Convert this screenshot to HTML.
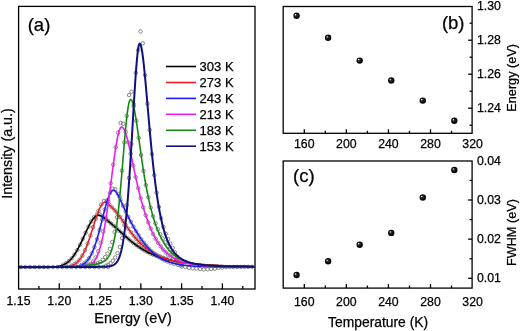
<!DOCTYPE html><html><head><meta charset="utf-8"><style>html,body{margin:0;padding:0;background:#fff;}svg{display:block;}</style></head><body><svg width="520" height="331" viewBox="0 0 520 331"><defs><radialGradient id="ball" cx="0.5" cy="0.5" r="0.5" fx="0.3" fy="0.32"><stop offset="0" stop-color="#ffffff"/><stop offset="0.1" stop-color="#e0e0e0"/><stop offset="0.3" stop-color="#303030"/><stop offset="0.8" stop-color="#000"/><stop offset="1" stop-color="#111"/></radialGradient></defs><rect width="520" height="331" fill="#fff"/><g fill="none" stroke="#747474" stroke-width="0.85"><circle cx="63.30" cy="264.79" r="1.75"/><circle cx="66.10" cy="263.29" r="1.75"/><circle cx="68.90" cy="261.18" r="1.75"/><circle cx="71.70" cy="258.31" r="1.75"/><circle cx="74.50" cy="254.61" r="1.75"/><circle cx="77.30" cy="250.04" r="1.75"/><circle cx="80.10" cy="244.68" r="1.75"/><circle cx="82.90" cy="238.76" r="1.75"/><circle cx="85.70" cy="232.61" r="1.75"/><circle cx="88.50" cy="226.70" r="1.75"/><circle cx="91.30" cy="221.49" r="1.75"/><circle cx="94.10" cy="217.29" r="1.75"/><circle cx="96.90" cy="214.63" r="1.75"/><circle cx="99.70" cy="214.48" r="1.75"/><circle cx="102.50" cy="216.36" r="1.75"/><circle cx="105.30" cy="218.72" r="1.75"/><circle cx="108.10" cy="221.03" r="1.75"/><circle cx="110.90" cy="223.36" r="1.75"/><circle cx="113.70" cy="225.77" r="1.75"/><circle cx="116.50" cy="228.25" r="1.75"/><circle cx="119.30" cy="230.79" r="1.75"/><circle cx="122.10" cy="233.35" r="1.75"/><circle cx="124.90" cy="235.88" r="1.75"/><circle cx="127.70" cy="238.34" r="1.75"/><circle cx="130.50" cy="240.70" r="1.75"/><circle cx="133.30" cy="242.94" r="1.75"/><circle cx="136.10" cy="245.04" r="1.75"/><circle cx="138.90" cy="247.00" r="1.75"/><circle cx="141.70" cy="248.80" r="1.75"/><circle cx="144.50" cy="250.46" r="1.75"/><circle cx="147.30" cy="251.97" r="1.75"/><circle cx="150.10" cy="253.35" r="1.75"/><circle cx="152.90" cy="254.60" r="1.75"/><circle cx="155.70" cy="255.73" r="1.75"/><circle cx="158.50" cy="256.76" r="1.75"/><circle cx="161.30" cy="257.69" r="1.75"/><circle cx="164.10" cy="258.55" r="1.75"/><circle cx="166.90" cy="259.37" r="1.75"/><circle cx="71.50" cy="265.60" r="1.75"/><circle cx="74.20" cy="264.37" r="1.75"/><circle cx="76.90" cy="262.45" r="1.75"/><circle cx="79.60" cy="259.59" r="1.75"/><circle cx="82.30" cy="255.57" r="1.75"/><circle cx="85.00" cy="250.21" r="1.75"/><circle cx="87.70" cy="243.51" r="1.75"/><circle cx="90.40" cy="235.65" r="1.75"/><circle cx="93.10" cy="227.13" r="1.75"/><circle cx="95.80" cy="218.63" r="1.75"/><circle cx="98.50" cy="210.92" r="1.75"/><circle cx="101.20" cy="204.65" r="1.75"/><circle cx="103.90" cy="200.99" r="1.75"/><circle cx="106.60" cy="201.43" r="1.75"/><circle cx="109.30" cy="204.52" r="1.75"/><circle cx="112.00" cy="207.42" r="1.75"/><circle cx="114.70" cy="210.31" r="1.75"/><circle cx="117.40" cy="213.55" r="1.75"/><circle cx="120.10" cy="217.12" r="1.75"/><circle cx="122.80" cy="220.91" r="1.75"/><circle cx="125.50" cy="224.77" r="1.75"/><circle cx="128.20" cy="228.59" r="1.75"/><circle cx="130.90" cy="232.25" r="1.75"/><circle cx="133.60" cy="235.71" r="1.75"/><circle cx="136.30" cy="238.93" r="1.75"/><circle cx="139.00" cy="241.87" r="1.75"/><circle cx="141.70" cy="244.54" r="1.75"/><circle cx="144.40" cy="246.94" r="1.75"/><circle cx="147.10" cy="249.10" r="1.75"/><circle cx="149.80" cy="251.02" r="1.75"/><circle cx="152.50" cy="252.72" r="1.75"/><circle cx="155.20" cy="254.23" r="1.75"/><circle cx="157.90" cy="255.58" r="1.75"/><circle cx="160.60" cy="256.77" r="1.75"/><circle cx="163.30" cy="257.83" r="1.75"/><circle cx="166.00" cy="258.81" r="1.75"/><circle cx="81.40" cy="265.04" r="1.75"/><circle cx="84.00" cy="263.61" r="1.75"/><circle cx="86.60" cy="261.37" r="1.75"/><circle cx="89.20" cy="258.05" r="1.75"/><circle cx="91.80" cy="253.36" r="1.75"/><circle cx="94.40" cy="247.08" r="1.75"/><circle cx="97.00" cy="239.16" r="1.75"/><circle cx="99.60" cy="229.82" r="1.75"/><circle cx="102.20" cy="219.61" r="1.75"/><circle cx="104.80" cy="209.40" r="1.75"/><circle cx="107.40" cy="200.20" r="1.75"/><circle cx="110.00" cy="192.90" r="1.75"/><circle cx="112.60" cy="188.70" r="1.75"/><circle cx="115.20" cy="189.25" r="1.75"/><circle cx="117.80" cy="193.76" r="1.75"/><circle cx="120.40" cy="199.70" r="1.75"/><circle cx="123.00" cy="205.67" r="1.75"/><circle cx="125.60" cy="211.39" r="1.75"/><circle cx="128.20" cy="216.80" r="1.75"/><circle cx="130.80" cy="221.88" r="1.75"/><circle cx="133.40" cy="226.65" r="1.75"/><circle cx="136.00" cy="231.13" r="1.75"/><circle cx="138.60" cy="235.30" r="1.75"/><circle cx="141.20" cy="239.16" r="1.75"/><circle cx="143.80" cy="242.70" r="1.75"/><circle cx="146.40" cy="245.92" r="1.75"/><circle cx="149.00" cy="248.81" r="1.75"/><circle cx="151.60" cy="251.39" r="1.75"/><circle cx="154.20" cy="253.67" r="1.75"/><circle cx="156.80" cy="255.66" r="1.75"/><circle cx="159.40" cy="257.39" r="1.75"/><circle cx="162.00" cy="258.89" r="1.75"/><circle cx="164.60" cy="260.19" r="1.75"/><circle cx="167.20" cy="261.33" r="1.75"/><circle cx="88.20" cy="265.47" r="1.75"/><circle cx="90.70" cy="264.02" r="1.75"/><circle cx="93.20" cy="261.48" r="1.75"/><circle cx="95.70" cy="257.37" r="1.75"/><circle cx="98.20" cy="251.24" r="1.75"/><circle cx="100.70" cy="242.74" r="1.75"/><circle cx="103.20" cy="231.64" r="1.75"/><circle cx="105.70" cy="217.85" r="1.75"/><circle cx="108.20" cy="201.53" r="1.75"/><circle cx="110.70" cy="183.35" r="1.75"/><circle cx="113.20" cy="164.66" r="1.75"/><circle cx="115.70" cy="147.28" r="1.75"/><circle cx="118.20" cy="132.56" r="1.75"/><circle cx="120.70" cy="122.97" r="1.75"/><circle cx="123.20" cy="123.74" r="1.75"/><circle cx="125.70" cy="131.97" r="1.75"/><circle cx="128.20" cy="142.30" r="1.75"/><circle cx="130.70" cy="153.62" r="1.75"/><circle cx="133.20" cy="165.51" r="1.75"/><circle cx="135.70" cy="177.19" r="1.75"/><circle cx="138.20" cy="188.17" r="1.75"/><circle cx="140.70" cy="198.20" r="1.75"/><circle cx="143.20" cy="207.23" r="1.75"/><circle cx="145.70" cy="215.26" r="1.75"/><circle cx="148.20" cy="222.35" r="1.75"/><circle cx="150.70" cy="228.59" r="1.75"/><circle cx="153.20" cy="234.05" r="1.75"/><circle cx="155.70" cy="238.80" r="1.75"/><circle cx="158.20" cy="242.93" r="1.75"/><circle cx="160.70" cy="246.49" r="1.75"/><circle cx="163.20" cy="249.57" r="1.75"/><circle cx="165.70" cy="252.25" r="1.75"/><circle cx="168.20" cy="254.63" r="1.75"/><circle cx="170.70" cy="256.82" r="1.75"/><circle cx="173.20" cy="258.93" r="1.75"/><circle cx="175.70" cy="261.03" r="1.75"/><circle cx="178.20" cy="263.11" r="1.75"/><circle cx="180.70" cy="265.04" r="1.75"/><circle cx="83.50" cy="265.78" r="1.75"/><circle cx="85.90" cy="265.57" r="1.75"/><circle cx="88.30" cy="265.32" r="1.75"/><circle cx="90.70" cy="265.01" r="1.75"/><circle cx="93.10" cy="264.59" r="1.75"/><circle cx="95.50" cy="264.01" r="1.75"/><circle cx="97.90" cy="263.14" r="1.75"/><circle cx="100.30" cy="261.82" r="1.75"/><circle cx="102.70" cy="259.89" r="1.75"/><circle cx="105.10" cy="257.20" r="1.75"/><circle cx="107.50" cy="253.60" r="1.75"/><circle cx="109.90" cy="248.79" r="1.75"/><circle cx="112.30" cy="242.05" r="1.75"/><circle cx="114.70" cy="232.09" r="1.75"/><circle cx="117.10" cy="217.32" r="1.75"/><circle cx="119.50" cy="196.67" r="1.75"/><circle cx="121.90" cy="170.71" r="1.75"/><circle cx="124.30" cy="142.44" r="1.75"/><circle cx="126.70" cy="115.84" r="1.75"/><circle cx="129.10" cy="95.10" r="1.75"/><circle cx="131.50" cy="91.77" r="1.75"/><circle cx="133.90" cy="104.47" r="1.75"/><circle cx="136.30" cy="120.68" r="1.75"/><circle cx="138.70" cy="137.73" r="1.75"/><circle cx="141.10" cy="154.93" r="1.75"/><circle cx="143.50" cy="170.96" r="1.75"/><circle cx="145.90" cy="185.13" r="1.75"/><circle cx="148.30" cy="197.30" r="1.75"/><circle cx="150.70" cy="207.60" r="1.75"/><circle cx="153.10" cy="216.20" r="1.75"/><circle cx="155.50" cy="223.34" r="1.75"/><circle cx="157.90" cy="229.25" r="1.75"/><circle cx="160.30" cy="234.22" r="1.75"/><circle cx="162.70" cy="238.51" r="1.75"/><circle cx="165.10" cy="242.41" r="1.75"/><circle cx="167.50" cy="246.11" r="1.75"/><circle cx="169.90" cy="249.70" r="1.75"/><circle cx="172.30" cy="253.23" r="1.75"/><circle cx="174.70" cy="256.66" r="1.75"/><circle cx="177.10" cy="259.89" r="1.75"/><circle cx="179.50" cy="262.80" r="1.75"/><circle cx="181.90" cy="265.23" r="1.75"/><circle cx="106.00" cy="265.79" r="1.75"/><circle cx="108.30" cy="264.77" r="1.75"/><circle cx="110.60" cy="263.15" r="1.75"/><circle cx="112.90" cy="260.77" r="1.75"/><circle cx="115.20" cy="257.50" r="1.75"/><circle cx="117.50" cy="253.12" r="1.75"/><circle cx="119.80" cy="247.05" r="1.75"/><circle cx="122.10" cy="238.20" r="1.75"/><circle cx="124.40" cy="224.89" r="1.75"/><circle cx="126.70" cy="205.26" r="1.75"/><circle cx="129.00" cy="178.13" r="1.75"/><circle cx="131.30" cy="144.11" r="1.75"/><circle cx="133.60" cy="106.45" r="1.75"/><circle cx="135.90" cy="72.76" r="1.75"/><circle cx="138.20" cy="50.09" r="1.75"/><circle cx="140.50" cy="31.43" r="1.75"/><circle cx="142.80" cy="43.30" r="1.75"/><circle cx="145.10" cy="75.32" r="1.75"/><circle cx="147.40" cy="103.62" r="1.75"/><circle cx="149.70" cy="129.93" r="1.75"/><circle cx="152.00" cy="154.08" r="1.75"/><circle cx="154.30" cy="175.10" r="1.75"/><circle cx="156.60" cy="192.70" r="1.75"/><circle cx="158.90" cy="206.99" r="1.75"/><circle cx="161.20" cy="218.28" r="1.75"/><circle cx="163.50" cy="227.03" r="1.75"/><circle cx="165.80" cy="233.76" r="1.75"/><circle cx="168.10" cy="239.07" r="1.75"/><circle cx="170.40" cy="243.60" r="1.75"/><circle cx="172.70" cy="247.92" r="1.75"/><circle cx="175.00" cy="252.34" r="1.75"/><circle cx="177.30" cy="256.81" r="1.75"/><circle cx="179.60" cy="260.98" r="1.75"/><circle cx="181.90" cy="264.38" r="1.75"/><circle cx="20.80" cy="267.0" r="1.75"/><circle cx="25.40" cy="267.0" r="1.75"/><circle cx="30.00" cy="267.0" r="1.75"/><circle cx="34.60" cy="267.0" r="1.75"/><circle cx="39.20" cy="267.0" r="1.75"/><circle cx="43.80" cy="267.0" r="1.75"/><circle cx="48.40" cy="267.0" r="1.75"/><circle cx="53.00" cy="267.0" r="1.75"/><circle cx="57.60" cy="267.0" r="1.75"/><circle cx="62.20" cy="267.0" r="1.75"/><circle cx="66.80" cy="267.0" r="1.75"/><circle cx="71.40" cy="267.0" r="1.75"/><circle cx="76.00" cy="267.0" r="1.75"/><circle cx="80.60" cy="267.0" r="1.75"/><circle cx="85.20" cy="267.0" r="1.75"/><circle cx="89.80" cy="267.0" r="1.75"/><circle cx="94.40" cy="267.0" r="1.75"/><circle cx="99.00" cy="267.0" r="1.75"/><circle cx="103.60" cy="267.0" r="1.75"/><circle cx="108.20" cy="267.0" r="1.75"/><circle cx="170.50" cy="262.82" r="1.75"/><circle cx="174.20" cy="263.77" r="1.75"/><circle cx="177.90" cy="264.83" r="1.75"/><circle cx="181.60" cy="266.50" r="1.75"/><circle cx="185.30" cy="266.96" r="1.75"/><circle cx="189.00" cy="267.80" r="1.75"/><circle cx="192.70" cy="268.30" r="1.75"/><circle cx="196.40" cy="268.53" r="1.75"/><circle cx="200.10" cy="269.03" r="1.75"/><circle cx="203.80" cy="269.39" r="1.75"/><circle cx="207.50" cy="269.26" r="1.75"/><circle cx="211.20" cy="268.92" r="1.75"/><circle cx="214.90" cy="268.70" r="1.75"/><circle cx="218.60" cy="267.79" r="1.75"/><circle cx="222.30" cy="267.53" r="1.75"/><circle cx="226.00" cy="267.10" r="1.75"/><circle cx="229.70" cy="267.00" r="1.75"/><circle cx="233.40" cy="266.98" r="1.75"/><circle cx="237.10" cy="266.95" r="1.75"/><circle cx="240.80" cy="266.91" r="1.75"/><circle cx="244.50" cy="266.87" r="1.75"/><circle cx="248.20" cy="266.84" r="1.75"/><circle cx="251.90" cy="266.81" r="1.75"/></g><g fill="none" stroke-width="1.6" stroke-linejoin="round"><path stroke="#000000" d="M19.20,267.50 L19.70,267.50 L20.20,267.50 L20.70,267.50 L21.20,267.50 L21.70,267.50 L22.20,267.50 L22.70,267.50 L23.20,267.50 L23.70,267.50 L24.20,267.50 L24.70,267.50 L25.20,267.50 L25.70,267.50 L26.20,267.50 L26.70,267.50 L27.20,267.50 L27.70,267.50 L28.20,267.50 L28.70,267.50 L29.20,267.50 L29.70,267.50 L30.20,267.50 L30.70,267.50 L31.20,267.50 L31.70,267.50 L32.20,267.50 L32.70,267.50 L33.20,267.50 L33.70,267.50 L34.20,267.50 L34.70,267.49 L35.20,267.49 L35.70,267.49 L36.20,267.49 L36.70,267.49 L37.20,267.49 L37.70,267.49 L38.20,267.49 L38.70,267.48 L39.20,267.48 L39.70,267.48 L40.20,267.48 L40.70,267.47 L41.20,267.47 L41.70,267.47 L42.20,267.46 L42.70,267.46 L43.20,267.45 L43.70,267.45 L44.20,267.44 L44.70,267.43 L45.20,267.43 L45.70,267.42 L46.20,267.41 L46.70,267.40 L47.20,267.38 L47.70,267.37 L48.20,267.35 L48.70,267.34 L49.20,267.32 L49.70,267.30 L50.20,267.27 L50.70,267.25 L51.20,267.22 L51.70,267.19 L52.20,267.15 L52.70,267.12 L53.20,267.08 L53.70,267.03 L54.20,266.98 L54.70,266.93 L55.20,266.87 L55.70,266.80 L56.20,266.73 L56.70,266.66 L57.20,266.57 L57.70,266.48 L58.20,266.38 L58.70,266.28 L59.20,266.16 L59.70,266.04 L60.20,265.90 L60.70,265.75 L61.20,265.60 L61.70,265.43 L62.20,265.24 L62.70,265.05 L63.20,264.84 L63.70,264.61 L64.20,264.37 L64.70,264.11 L65.20,263.84 L65.70,263.54 L66.20,263.23 L66.70,262.90 L67.20,262.54 L67.70,262.17 L68.20,261.77 L68.70,261.35 L69.20,260.91 L69.70,260.44 L70.20,259.95 L70.70,259.43 L71.20,258.89 L71.70,258.31 L72.20,257.72 L72.70,257.09 L73.20,256.44 L73.70,255.76 L74.20,255.05 L74.70,254.31 L75.20,253.55 L75.70,252.75 L76.20,251.93 L76.70,251.09 L77.20,250.22 L77.70,249.32 L78.20,248.40 L78.70,247.45 L79.20,246.48 L79.70,245.49 L80.20,244.48 L80.70,243.45 L81.20,242.41 L81.70,241.35 L82.20,240.28 L82.70,239.20 L83.20,238.11 L83.70,237.01 L84.20,235.91 L84.70,234.81 L85.20,233.71 L85.70,232.61 L86.20,231.53 L86.70,230.45 L87.20,229.39 L87.70,228.34 L88.20,227.32 L88.70,226.31 L89.20,225.33 L89.70,224.38 L90.20,223.47 L90.70,222.58 L91.20,221.74 L91.70,220.94 L92.20,220.17 L92.70,219.46 L93.20,218.79 L93.70,218.18 L94.20,217.61 L94.70,217.11 L95.20,216.66 L95.70,216.26 L96.20,215.93 L96.70,215.66 L97.20,215.45 L97.70,215.30 L98.20,215.22 L98.70,215.20 L99.20,215.24 L99.70,215.34 L100.20,215.48 L100.70,215.68 L101.20,215.91 L101.70,216.19 L102.20,216.49 L102.70,216.82 L103.20,217.17 L103.70,217.54 L104.20,217.91 L104.70,218.30 L105.20,218.69 L105.70,219.09 L106.20,219.49 L106.70,219.89 L107.20,220.30 L107.70,220.70 L108.20,221.11 L108.70,221.52 L109.20,221.94 L109.70,222.35 L110.20,222.77 L110.70,223.19 L111.20,223.61 L111.70,224.04 L112.20,224.47 L112.70,224.90 L113.20,225.33 L113.70,225.77 L114.20,226.21 L114.70,226.65 L115.20,227.09 L115.70,227.54 L116.20,227.98 L116.70,228.43 L117.20,228.88 L117.70,229.34 L118.20,229.79 L118.70,230.25 L119.20,230.70 L119.70,231.16 L120.20,231.62 L120.70,232.07 L121.20,232.53 L121.70,232.99 L122.20,233.44 L122.70,233.90 L123.20,234.35 L123.70,234.80 L124.20,235.25 L124.70,235.70 L125.20,236.15 L125.70,236.59 L126.20,237.03 L126.70,237.47 L127.20,237.91 L127.70,238.34 L128.20,238.77 L128.70,239.20 L129.20,239.62 L129.70,240.04 L130.20,240.46 L130.70,240.87 L131.20,241.28 L131.70,241.68 L132.20,242.08 L132.70,242.47 L133.20,242.87 L133.70,243.25 L134.20,243.63 L134.70,244.01 L135.20,244.38 L135.70,244.75 L136.20,245.12 L136.70,245.48 L137.20,245.83 L137.70,246.18 L138.20,246.52 L138.70,246.86 L139.20,247.20 L139.70,247.53 L140.20,247.85 L140.70,248.17 L141.20,248.49 L141.70,248.80 L142.20,249.11 L142.70,249.41 L143.20,249.71 L143.70,250.00 L144.20,250.29 L144.70,250.57 L145.20,250.85 L145.70,251.12 L146.20,251.39 L146.70,251.66 L147.20,251.92 L147.70,252.18 L148.20,252.43 L148.70,252.68 L149.20,252.92 L149.70,253.16 L150.20,253.40 L150.70,253.63 L151.20,253.85 L151.70,254.08 L152.20,254.30 L152.70,254.51 L153.20,254.73 L153.70,254.94 L154.20,255.14 L154.70,255.34 L155.20,255.54 L155.70,255.73 L156.20,255.92 L156.70,256.11 L157.20,256.30 L157.70,256.48 L158.20,256.65 L158.70,256.83 L159.20,257.00 L159.70,257.17 L160.20,257.33 L160.70,257.50 L161.20,257.66 L161.70,257.81 L162.20,257.97 L162.70,258.12 L163.20,258.27 L163.70,258.41 L164.20,258.55 L164.70,258.69 L165.20,258.83 L165.70,258.97 L166.20,259.10 L166.70,259.23 L167.20,259.36 L167.70,259.49 L168.20,259.61 L168.70,259.73 L169.20,259.85 L169.70,259.97 L170.20,260.08 L170.70,260.20 L171.20,260.31 L171.70,260.42 L172.20,260.52 L172.70,260.63 L173.20,260.73 L173.70,260.83 L174.20,260.93 L174.70,261.03 L175.20,261.13 L175.70,261.22 L176.20,261.31 L176.70,261.40 L177.20,261.49 L177.70,261.58 L178.20,261.67 L178.70,261.75 L179.20,261.84 L179.70,261.92 L180.20,262.00 L180.70,262.08 L181.20,262.16 L181.70,262.23 L182.20,262.31 L182.70,262.38 L183.20,262.45 L183.70,262.53 L184.20,262.60 L184.70,262.67 L185.20,262.73 L185.70,262.80 L186.20,262.87 L186.70,262.93 L187.20,262.99 L187.70,263.06 L188.20,263.12 L188.70,263.18 L189.20,263.24 L189.70,263.29 L190.20,263.35 L190.70,263.41 L191.20,263.46 L191.70,263.52 L192.20,263.57 L192.70,263.62 L193.20,263.67 L193.70,263.73 L194.20,263.78 L194.70,263.83 L195.20,263.87 L195.70,263.92 L196.20,263.97 L196.70,264.01 L197.20,264.06 L197.70,264.10 L198.20,264.15 L198.70,264.19 L199.20,264.23 L199.70,264.28 L200.20,264.32 L200.70,264.36 L201.20,264.40 L201.70,264.44 L202.20,264.48 L202.70,264.51 L203.20,264.55 L203.70,264.59 L204.20,264.62 L204.70,264.66 L205.20,264.70 L205.70,264.73 L206.20,264.76 L206.70,264.80 L207.20,264.83 L207.70,264.86 L208.20,264.90 L208.70,264.93 L209.20,264.96 L209.70,264.99 L210.20,265.02 L210.70,265.05 L211.20,265.08 L211.70,265.11 L212.20,265.14 L212.70,265.16 L213.20,265.19 L213.70,265.22 L214.20,265.24 L214.70,265.27 L215.20,265.30 L215.70,265.32 L216.20,265.35 L216.70,265.37 L217.20,265.40 L217.70,265.42 L218.20,265.45 L218.70,265.47 L219.20,265.49 L219.70,265.51 L220.20,265.54 L220.70,265.56 L221.20,265.58 L221.70,265.60 L222.20,265.62 L222.70,265.64 L223.20,265.67 L223.70,265.69 L224.20,265.71 L224.70,265.73 L225.20,265.74 L225.70,265.76 L226.20,265.78 L226.70,265.80 L227.20,265.82 L227.70,265.84 L228.20,265.86 L228.70,265.87 L229.20,265.89 L229.70,265.91 L230.20,265.93 L230.70,265.94 L231.20,265.96 L231.70,265.98 L232.20,265.99 L232.70,266.01 L233.20,266.02 L233.70,266.04 L234.20,266.05 L234.70,266.07 L235.20,266.08 L235.70,266.10 L236.20,266.11 L236.70,266.13 L237.20,266.14 L237.70,266.15 L238.20,266.17 L238.70,266.18 L239.20,266.20 L239.70,266.21 L240.20,266.22 L240.70,266.23 L241.20,266.25 L241.70,266.26 L242.20,266.27 L242.70,266.28 L243.20,266.30 L243.70,266.31 L244.20,266.32 L244.70,266.33 L245.20,266.34 L245.70,266.35 L246.20,266.37 L246.70,266.38 L247.20,266.39 L247.70,266.40 L248.20,266.41 L248.70,266.42 L249.20,266.43 L249.70,266.44 L250.20,266.45 L250.70,266.46 L251.20,266.47 L251.70,266.48 L252.20,266.49 L252.70,266.50 L253.20,266.51 L253.70,266.52 L254.20,266.53"/><path stroke="#ee1c24" d="M19.20,267.30 L19.70,267.30 L20.20,267.30 L20.70,267.30 L21.20,267.30 L21.70,267.30 L22.20,267.30 L22.70,267.30 L23.20,267.30 L23.70,267.30 L24.20,267.30 L24.70,267.30 L25.20,267.30 L25.70,267.30 L26.20,267.30 L26.70,267.30 L27.20,267.30 L27.70,267.30 L28.20,267.30 L28.70,267.30 L29.20,267.30 L29.70,267.30 L30.20,267.30 L30.70,267.30 L31.20,267.30 L31.70,267.30 L32.20,267.30 L32.70,267.30 L33.20,267.30 L33.70,267.30 L34.20,267.30 L34.70,267.30 L35.20,267.30 L35.70,267.30 L36.20,267.30 L36.70,267.30 L37.20,267.30 L37.70,267.30 L38.20,267.30 L38.70,267.30 L39.20,267.30 L39.70,267.30 L40.20,267.30 L40.70,267.30 L41.20,267.30 L41.70,267.30 L42.20,267.30 L42.70,267.30 L43.20,267.30 L43.70,267.30 L44.20,267.30 L44.70,267.30 L45.20,267.30 L45.70,267.30 L46.20,267.30 L46.70,267.30 L47.20,267.30 L47.70,267.30 L48.20,267.30 L48.70,267.30 L49.20,267.30 L49.70,267.29 L50.20,267.29 L50.70,267.29 L51.20,267.29 L51.70,267.29 L52.20,267.29 L52.70,267.29 L53.20,267.28 L53.70,267.28 L54.20,267.28 L54.70,267.28 L55.20,267.27 L55.70,267.27 L56.20,267.26 L56.70,267.26 L57.20,267.25 L57.70,267.24 L58.20,267.23 L58.70,267.22 L59.20,267.21 L59.70,267.20 L60.20,267.19 L60.70,267.17 L61.20,267.15 L61.70,267.13 L62.20,267.11 L62.70,267.08 L63.20,267.05 L63.70,267.02 L64.20,266.98 L64.70,266.94 L65.20,266.89 L65.70,266.84 L66.20,266.78 L66.70,266.72 L67.20,266.64 L67.70,266.56 L68.20,266.47 L68.70,266.38 L69.20,266.27 L69.70,266.15 L70.20,266.01 L70.70,265.87 L71.20,265.71 L71.70,265.53 L72.20,265.34 L72.70,265.13 L73.20,264.90 L73.70,264.64 L74.20,264.37 L74.70,264.07 L75.20,263.75 L75.70,263.40 L76.20,263.03 L76.70,262.62 L77.20,262.18 L77.70,261.71 L78.20,261.20 L78.70,260.66 L79.20,260.08 L79.70,259.46 L80.20,258.80 L80.70,258.10 L81.20,257.36 L81.70,256.57 L82.20,255.74 L82.70,254.86 L83.20,253.93 L83.70,252.96 L84.20,251.94 L84.70,250.87 L85.20,249.76 L85.70,248.60 L86.20,247.39 L86.70,246.14 L87.20,244.84 L87.70,243.51 L88.20,242.13 L88.70,240.71 L89.20,239.26 L89.70,237.78 L90.20,236.27 L90.70,234.73 L91.20,233.17 L91.70,231.59 L92.20,230.00 L92.70,228.41 L93.20,226.81 L93.70,225.21 L94.20,223.62 L94.70,222.04 L95.20,220.48 L95.70,218.95 L96.20,217.45 L96.70,215.99 L97.20,214.57 L97.70,213.20 L98.20,211.88 L98.70,210.63 L99.20,209.44 L99.70,208.33 L100.20,207.29 L100.70,206.34 L101.20,205.47 L101.70,204.70 L102.20,204.02 L102.70,203.44 L103.20,202.96 L103.70,202.59 L104.20,202.32 L104.70,202.15 L105.20,202.10 L105.70,202.17 L106.20,202.37 L106.70,202.67 L107.20,203.05 L107.70,203.47 L108.20,203.92 L108.70,204.38 L109.20,204.84 L109.70,205.31 L110.20,205.77 L110.70,206.24 L111.20,206.71 L111.70,207.19 L112.20,207.68 L112.70,208.18 L113.20,208.69 L113.70,209.22 L114.20,209.76 L114.70,210.31 L115.20,210.88 L115.70,211.47 L116.20,212.06 L116.70,212.67 L117.20,213.30 L117.70,213.93 L118.20,214.58 L118.70,215.23 L119.20,215.90 L119.70,216.58 L120.20,217.26 L120.70,217.95 L121.20,218.65 L121.70,219.35 L122.20,220.06 L122.70,220.77 L123.20,221.48 L123.70,222.20 L124.20,222.91 L124.70,223.63 L125.20,224.34 L125.70,225.06 L126.20,225.77 L126.70,226.48 L127.20,227.19 L127.70,227.89 L128.20,228.59 L128.70,229.28 L129.20,229.96 L129.70,230.65 L130.20,231.32 L130.70,231.99 L131.20,232.65 L131.70,233.30 L132.20,233.95 L132.70,234.59 L133.20,235.22 L133.70,235.84 L134.20,236.45 L134.70,237.05 L135.20,237.65 L135.70,238.24 L136.20,238.81 L136.70,239.38 L137.20,239.94 L137.70,240.49 L138.20,241.03 L138.70,241.56 L139.20,242.08 L139.70,242.59 L140.20,243.09 L140.70,243.58 L141.20,244.07 L141.70,244.54 L142.20,245.01 L142.70,245.46 L143.20,245.91 L143.70,246.35 L144.20,246.78 L144.70,247.20 L145.20,247.61 L145.70,248.01 L146.20,248.41 L146.70,248.79 L147.20,249.17 L147.70,249.54 L148.20,249.91 L148.70,250.26 L149.20,250.61 L149.70,250.95 L150.20,251.28 L150.70,251.61 L151.20,251.93 L151.70,252.24 L152.20,252.54 L152.70,252.84 L153.20,253.13 L153.70,253.42 L154.20,253.70 L154.70,253.97 L155.20,254.23 L155.70,254.49 L156.20,254.75 L156.70,255.00 L157.20,255.24 L157.70,255.48 L158.20,255.71 L158.70,255.94 L159.20,256.16 L159.70,256.38 L160.20,256.59 L160.70,256.80 L161.20,257.01 L161.70,257.21 L162.20,257.40 L162.70,257.59 L163.20,257.78 L163.70,257.96 L164.20,258.14 L164.70,258.31 L165.20,258.48 L165.70,258.65 L166.20,258.81 L166.70,258.97 L167.20,259.12 L167.70,259.28 L168.20,259.42 L168.70,259.57 L169.20,259.71 L169.70,259.85 L170.20,259.99 L170.70,260.12 L171.20,260.25 L171.70,260.38 L172.20,260.50 L172.70,260.63 L173.20,260.75 L173.70,260.86 L174.20,260.98 L174.70,261.09 L175.20,261.20 L175.70,261.31 L176.20,261.41 L176.70,261.51 L177.20,261.61 L177.70,261.71 L178.20,261.81 L178.70,261.90 L179.20,262.00 L179.70,262.09 L180.20,262.18 L180.70,262.26 L181.20,262.35 L181.70,262.43 L182.20,262.51 L182.70,262.59 L183.20,262.67 L183.70,262.75 L184.20,262.82 L184.70,262.90 L185.20,262.97 L185.70,263.04 L186.20,263.11 L186.70,263.18 L187.20,263.24 L187.70,263.31 L188.20,263.37 L188.70,263.44 L189.20,263.50 L189.70,263.56 L190.20,263.62 L190.70,263.67 L191.20,263.73 L191.70,263.79 L192.20,263.84 L192.70,263.90 L193.20,263.95 L193.70,264.00 L194.20,264.05 L194.70,264.10 L195.20,264.15 L195.70,264.20 L196.20,264.24 L196.70,264.29 L197.20,264.33 L197.70,264.38 L198.20,264.42 L198.70,264.46 L199.20,264.51 L199.70,264.55 L200.20,264.59 L200.70,264.63 L201.20,264.67 L201.70,264.70 L202.20,264.74 L202.70,264.78 L203.20,264.82 L203.70,264.85 L204.20,264.89 L204.70,264.92 L205.20,264.95 L205.70,264.99 L206.20,265.02 L206.70,265.05 L207.20,265.08 L207.70,265.11 L208.20,265.14 L208.70,265.17 L209.20,265.20 L209.70,265.23 L210.20,265.26 L210.70,265.29 L211.20,265.31 L211.70,265.34 L212.20,265.37 L212.70,265.39 L213.20,265.42 L213.70,265.44 L214.20,265.47 L214.70,265.49 L215.20,265.52 L215.70,265.54 L216.20,265.56 L216.70,265.59 L217.20,265.61 L217.70,265.63 L218.20,265.65 L218.70,265.67 L219.20,265.69 L219.70,265.71 L220.20,265.73 L220.70,265.75 L221.20,265.77 L221.70,265.79 L222.20,265.81 L222.70,265.83 L223.20,265.85 L223.70,265.87 L224.20,265.88 L224.70,265.90 L225.20,265.92 L225.70,265.94 L226.20,265.95 L226.70,265.97 L227.20,265.99 L227.70,266.00 L228.20,266.02 L228.70,266.03 L229.20,266.05 L229.70,266.06 L230.20,266.08 L230.70,266.09 L231.20,266.11 L231.70,266.12 L232.20,266.13 L232.70,266.15 L233.20,266.16 L233.70,266.17 L234.20,266.19 L234.70,266.20 L235.20,266.21 L235.70,266.23 L236.20,266.24 L236.70,266.25 L237.20,266.26 L237.70,266.27 L238.20,266.29 L238.70,266.30 L239.20,266.31 L239.70,266.32 L240.20,266.33 L240.70,266.34 L241.20,266.35 L241.70,266.36 L242.20,266.37 L242.70,266.38 L243.20,266.39 L243.70,266.40 L244.20,266.41 L244.70,266.42 L245.20,266.43 L245.70,266.44 L246.20,266.45 L246.70,266.46 L247.20,266.47 L247.70,266.48 L248.20,266.49 L248.70,266.49 L249.20,266.50 L249.70,266.51 L250.20,266.52 L250.70,266.53 L251.20,266.54 L251.70,266.54 L252.20,266.55 L252.70,266.56 L253.20,266.57 L253.70,266.57 L254.20,266.58"/><path stroke="#1a1aff" d="M19.20,267.10 L19.70,267.10 L20.20,267.10 L20.70,267.10 L21.20,267.10 L21.70,267.10 L22.20,267.10 L22.70,267.10 L23.20,267.10 L23.70,267.10 L24.20,267.10 L24.70,267.10 L25.20,267.10 L25.70,267.10 L26.20,267.10 L26.70,267.10 L27.20,267.10 L27.70,267.10 L28.20,267.10 L28.70,267.10 L29.20,267.10 L29.70,267.10 L30.20,267.10 L30.70,267.10 L31.20,267.10 L31.70,267.10 L32.20,267.10 L32.70,267.10 L33.20,267.10 L33.70,267.10 L34.20,267.10 L34.70,267.10 L35.20,267.10 L35.70,267.10 L36.20,267.10 L36.70,267.10 L37.20,267.10 L37.70,267.10 L38.20,267.10 L38.70,267.10 L39.20,267.10 L39.70,267.10 L40.20,267.10 L40.70,267.10 L41.20,267.10 L41.70,267.10 L42.20,267.10 L42.70,267.10 L43.20,267.10 L43.70,267.10 L44.20,267.10 L44.70,267.10 L45.20,267.10 L45.70,267.10 L46.20,267.10 L46.70,267.10 L47.20,267.10 L47.70,267.10 L48.20,267.10 L48.70,267.10 L49.20,267.10 L49.70,267.10 L50.20,267.10 L50.70,267.10 L51.20,267.10 L51.70,267.10 L52.20,267.10 L52.70,267.10 L53.20,267.10 L53.70,267.10 L54.20,267.10 L54.70,267.10 L55.20,267.10 L55.70,267.10 L56.20,267.09 L56.70,267.09 L57.20,267.09 L57.70,267.09 L58.20,267.09 L58.70,267.09 L59.20,267.09 L59.70,267.09 L60.20,267.09 L60.70,267.08 L61.20,267.08 L61.70,267.08 L62.20,267.08 L62.70,267.08 L63.20,267.07 L63.70,267.07 L64.20,267.06 L64.70,267.06 L65.20,267.06 L65.70,267.05 L66.20,267.04 L66.70,267.03 L67.20,267.03 L67.70,267.02 L68.20,267.01 L68.70,266.99 L69.20,266.98 L69.70,266.96 L70.20,266.94 L70.70,266.92 L71.20,266.90 L71.70,266.88 L72.20,266.85 L72.70,266.81 L73.20,266.78 L73.70,266.74 L74.20,266.69 L74.70,266.64 L75.20,266.58 L75.70,266.52 L76.20,266.45 L76.70,266.37 L77.20,266.28 L77.70,266.18 L78.20,266.07 L78.70,265.95 L79.20,265.82 L79.70,265.67 L80.20,265.50 L80.70,265.32 L81.20,265.13 L81.70,264.91 L82.20,264.67 L82.70,264.41 L83.20,264.12 L83.70,263.81 L84.20,263.47 L84.70,263.10 L85.20,262.69 L85.70,262.25 L86.20,261.78 L86.70,261.27 L87.20,260.72 L87.70,260.12 L88.20,259.48 L88.70,258.79 L89.20,258.05 L89.70,257.27 L90.20,256.43 L90.70,255.53 L91.20,254.58 L91.70,253.57 L92.20,252.50 L92.70,251.37 L93.20,250.18 L93.70,248.93 L94.20,247.62 L94.70,246.25 L95.20,244.81 L95.70,243.32 L96.20,241.76 L96.70,240.15 L97.20,238.49 L97.70,236.77 L98.20,235.00 L98.70,233.19 L99.20,231.33 L99.70,229.44 L100.20,227.52 L100.70,225.57 L101.20,223.59 L101.70,221.61 L102.20,219.61 L102.70,217.62 L103.20,215.63 L103.70,213.66 L104.20,211.71 L104.70,209.80 L105.20,207.92 L105.70,206.10 L106.20,204.33 L106.70,202.63 L107.20,201.01 L107.70,199.47 L108.20,198.02 L108.70,196.68 L109.20,195.45 L109.70,194.33 L110.20,193.34 L110.70,192.48 L111.20,191.75 L111.70,191.17 L112.20,190.74 L112.70,190.45 L113.20,190.31 L113.70,190.32 L114.20,190.46 L114.70,190.72 L115.20,191.10 L115.70,191.58 L116.20,192.18 L116.70,192.86 L117.20,193.63 L117.70,194.48 L118.20,195.39 L118.70,196.35 L119.20,197.36 L119.70,198.40 L120.20,199.47 L120.70,200.56 L121.20,201.67 L121.70,202.78 L122.20,203.90 L122.70,205.02 L123.20,206.13 L123.70,207.25 L124.20,208.35 L124.70,209.44 L125.20,210.53 L125.70,211.60 L126.20,212.66 L126.70,213.72 L127.20,214.75 L127.70,215.78 L128.20,216.80 L128.70,217.80 L129.20,218.79 L129.70,219.77 L130.20,220.73 L130.70,221.69 L131.20,222.63 L131.70,223.57 L132.20,224.49 L132.70,225.40 L133.20,226.30 L133.70,227.18 L134.20,228.06 L134.70,228.93 L135.20,229.78 L135.70,230.63 L136.20,231.46 L136.70,232.28 L137.20,233.09 L137.70,233.89 L138.20,234.68 L138.70,235.45 L139.20,236.22 L139.70,236.97 L140.20,237.71 L140.70,238.44 L141.20,239.16 L141.70,239.87 L142.20,240.56 L142.70,241.24 L143.20,241.91 L143.70,242.57 L144.20,243.22 L144.70,243.85 L145.20,244.48 L145.70,245.09 L146.20,245.68 L146.70,246.27 L147.20,246.85 L147.70,247.41 L148.20,247.96 L148.70,248.50 L149.20,249.02 L149.70,249.54 L150.20,250.04 L150.70,250.53 L151.20,251.02 L151.70,251.49 L152.20,251.94 L152.70,252.39 L153.20,252.83 L153.70,253.25 L154.20,253.67 L154.70,254.07 L155.20,254.47 L155.70,254.85 L156.20,255.22 L156.70,255.59 L157.20,255.94 L157.70,256.29 L158.20,256.62 L158.70,256.95 L159.20,257.27 L159.70,257.57 L160.20,257.87 L160.70,258.17 L161.20,258.45 L161.70,258.72 L162.20,258.99 L162.70,259.25 L163.20,259.50 L163.70,259.75 L164.20,259.98 L164.70,260.21 L165.20,260.43 L165.70,260.65 L166.20,260.86 L166.70,261.06 L167.20,261.26 L167.70,261.45 L168.20,261.64 L168.70,261.81 L169.20,261.99 L169.70,262.16 L170.20,262.32 L170.70,262.48 L171.20,262.63 L171.70,262.78 L172.20,262.92 L172.70,263.06 L173.20,263.19 L173.70,263.32 L174.20,263.45 L174.70,263.57 L175.20,263.69 L175.70,263.80 L176.20,263.91 L176.70,264.02 L177.20,264.12 L177.70,264.22 L178.20,264.31 L178.70,264.41 L179.20,264.50 L179.70,264.58 L180.20,264.67 L180.70,264.75 L181.20,264.83 L181.70,264.90 L182.20,264.98 L182.70,265.05 L183.20,265.11 L183.70,265.18 L184.20,265.24 L184.70,265.31 L185.20,265.37 L185.70,265.42 L186.20,265.48 L186.70,265.53 L187.20,265.58 L187.70,265.63 L188.20,265.68 L188.70,265.73 L189.20,265.78 L189.70,265.82 L190.20,265.86 L190.70,265.90 L191.20,265.94 L191.70,265.98 L192.20,266.02 L192.70,266.05 L193.20,266.09 L193.70,266.12 L194.20,266.15 L194.70,266.18 L195.20,266.21 L195.70,266.24 L196.20,266.27 L196.70,266.30 L197.20,266.32 L197.70,266.35 L198.20,266.37 L198.70,266.40 L199.20,266.42 L199.70,266.44 L200.20,266.46 L200.70,266.48 L201.20,266.50 L201.70,266.52 L202.20,266.54 L202.70,266.56 L203.20,266.58 L203.70,266.59 L204.20,266.61 L204.70,266.62 L205.20,266.64 L205.70,266.65 L206.20,266.67 L206.70,266.68 L207.20,266.69 L207.70,266.71 L208.20,266.72 L208.70,266.73 L209.20,266.74 L209.70,266.75 L210.20,266.77 L210.70,266.78 L211.20,266.79 L211.70,266.80 L212.20,266.81 L212.70,266.81 L213.20,266.82 L213.70,266.83 L214.20,266.84 L214.70,266.85 L215.20,266.86 L215.70,266.86 L216.20,266.87 L216.70,266.88 L217.20,266.88 L217.70,266.89 L218.20,266.90 L218.70,266.90 L219.20,266.91 L219.70,266.91 L220.20,266.92 L220.70,266.93 L221.20,266.93 L221.70,266.94 L222.20,266.94 L222.70,266.95 L223.20,266.95 L223.70,266.95 L224.20,266.96 L224.70,266.96 L225.20,266.97 L225.70,266.97 L226.20,266.97 L226.70,266.98 L227.20,266.98 L227.70,266.99 L228.20,266.99 L228.70,266.99 L229.20,267.00 L229.70,267.00 L230.20,267.00 L230.70,267.00 L231.20,267.01 L231.70,267.01 L232.20,267.01 L232.70,267.01 L233.20,267.02 L233.70,267.02 L234.20,267.02 L234.70,267.02 L235.20,267.03 L235.70,267.03 L236.20,267.03 L236.70,267.03 L237.20,267.03 L237.70,267.04 L238.20,267.04 L238.70,267.04 L239.20,267.04 L239.70,267.04 L240.20,267.04 L240.70,267.05 L241.20,267.05 L241.70,267.05 L242.20,267.05 L242.70,267.05 L243.20,267.05 L243.70,267.05 L244.20,267.06 L244.70,267.06 L245.20,267.06 L245.70,267.06 L246.20,267.06 L246.70,267.06 L247.20,267.06 L247.70,267.06 L248.20,267.06 L248.70,267.07 L249.20,267.07 L249.70,267.07 L250.20,267.07 L250.70,267.07 L251.20,267.07 L251.70,267.07 L252.20,267.07 L252.70,267.07 L253.20,267.07 L253.70,267.07 L254.20,267.07"/><path stroke="#f01cf0" d="M19.20,267.00 L19.70,267.00 L20.20,267.00 L20.70,267.00 L21.20,267.00 L21.70,267.00 L22.20,267.00 L22.70,267.00 L23.20,267.00 L23.70,267.00 L24.20,267.00 L24.70,267.00 L25.20,267.00 L25.70,267.00 L26.20,267.00 L26.70,267.00 L27.20,267.00 L27.70,267.00 L28.20,267.00 L28.70,267.00 L29.20,267.00 L29.70,267.00 L30.20,267.00 L30.70,267.00 L31.20,267.00 L31.70,267.00 L32.20,267.00 L32.70,267.00 L33.20,267.00 L33.70,267.00 L34.20,267.00 L34.70,267.00 L35.20,267.00 L35.70,267.00 L36.20,267.00 L36.70,267.00 L37.20,267.00 L37.70,267.00 L38.20,267.00 L38.70,267.00 L39.20,267.00 L39.70,267.00 L40.20,267.00 L40.70,267.00 L41.20,267.00 L41.70,267.00 L42.20,267.00 L42.70,267.00 L43.20,267.00 L43.70,267.00 L44.20,267.00 L44.70,267.00 L45.20,267.00 L45.70,267.00 L46.20,267.00 L46.70,267.00 L47.20,267.00 L47.70,267.00 L48.20,267.00 L48.70,267.00 L49.20,267.00 L49.70,267.00 L50.20,267.00 L50.70,267.00 L51.20,267.00 L51.70,267.00 L52.20,267.00 L52.70,267.00 L53.20,267.00 L53.70,267.00 L54.20,267.00 L54.70,267.00 L55.20,267.00 L55.70,267.00 L56.20,267.00 L56.70,267.00 L57.20,267.00 L57.70,267.00 L58.20,267.00 L58.70,267.00 L59.20,267.00 L59.70,267.00 L60.20,267.00 L60.70,267.00 L61.20,267.00 L61.70,267.00 L62.20,267.00 L62.70,267.00 L63.20,267.00 L63.70,267.00 L64.20,267.00 L64.70,267.00 L65.20,267.00 L65.70,267.00 L66.20,267.00 L66.70,267.00 L67.20,267.00 L67.70,267.00 L68.20,267.00 L68.70,267.00 L69.20,267.00 L69.70,267.00 L70.20,266.99 L70.70,266.99 L71.20,266.99 L71.70,266.99 L72.20,266.99 L72.70,266.99 L73.20,266.99 L73.70,266.98 L74.20,266.98 L74.70,266.98 L75.20,266.97 L75.70,266.97 L76.20,266.96 L76.70,266.95 L77.20,266.95 L77.70,266.94 L78.20,266.93 L78.70,266.91 L79.20,266.90 L79.70,266.88 L80.20,266.86 L80.70,266.84 L81.20,266.81 L81.70,266.78 L82.20,266.74 L82.70,266.70 L83.20,266.66 L83.70,266.60 L84.20,266.54 L84.70,266.47 L85.20,266.39 L85.70,266.30 L86.20,266.19 L86.70,266.07 L87.20,265.94 L87.70,265.79 L88.20,265.62 L88.70,265.42 L89.20,265.21 L89.70,264.96 L90.20,264.69 L90.70,264.39 L91.20,264.05 L91.70,263.67 L92.20,263.25 L92.70,262.79 L93.20,262.27 L93.70,261.70 L94.20,261.08 L94.70,260.39 L95.20,259.63 L95.70,258.80 L96.20,257.90 L96.70,256.91 L97.20,255.84 L97.70,254.68 L98.20,253.42 L98.70,252.06 L99.20,250.60 L99.70,249.02 L100.20,247.33 L100.70,245.53 L101.20,243.60 L101.70,241.55 L102.20,239.38 L102.70,237.07 L103.20,234.64 L103.70,232.08 L104.20,229.39 L104.70,226.57 L105.20,223.63 L105.70,220.56 L106.20,217.38 L106.70,214.08 L107.20,210.68 L107.70,207.18 L108.20,203.59 L108.70,199.92 L109.20,196.18 L109.70,192.38 L110.20,188.54 L110.70,184.66 L111.20,180.78 L111.70,176.89 L112.20,173.01 L112.70,169.17 L113.20,165.38 L113.70,161.66 L114.20,158.03 L114.70,154.51 L115.20,151.11 L115.70,147.85 L116.20,144.76 L116.70,141.86 L117.20,139.16 L117.70,136.68 L118.20,134.45 L118.70,132.48 L119.20,130.79 L119.70,129.39 L120.20,128.31 L120.70,127.54 L121.20,127.11 L121.70,127.00 L122.20,127.15 L122.70,127.49 L123.20,128.03 L123.70,128.76 L124.20,129.68 L124.70,130.77 L125.20,132.03 L125.70,133.45 L126.20,135.02 L126.70,136.72 L127.20,138.54 L127.70,140.47 L128.20,142.49 L128.70,144.60 L129.20,146.78 L129.70,149.02 L130.20,151.30 L130.70,153.63 L131.20,155.98 L131.70,158.35 L132.20,160.73 L132.70,163.12 L133.20,165.51 L133.70,167.88 L134.20,170.24 L134.70,172.58 L135.20,174.90 L135.70,177.19 L136.20,179.46 L136.70,181.69 L137.20,183.89 L137.70,186.05 L138.20,188.17 L138.70,190.26 L139.20,192.30 L139.70,194.31 L140.20,196.28 L140.70,198.20 L141.20,200.09 L141.70,201.93 L142.20,203.74 L142.70,205.50 L143.20,207.23 L143.70,208.91 L144.20,210.55 L144.70,212.16 L145.20,213.73 L145.70,215.26 L146.20,216.75 L146.70,218.20 L147.20,219.62 L147.70,221.01 L148.20,222.35 L148.70,223.67 L149.20,224.95 L149.70,226.20 L150.20,227.41 L150.70,228.59 L151.20,229.75 L151.70,230.87 L152.20,231.96 L152.70,233.02 L153.20,234.05 L153.70,235.06 L154.20,236.03 L154.70,236.98 L155.20,237.91 L155.70,238.80 L156.20,239.68 L156.70,240.52 L157.20,241.35 L157.70,242.15 L158.20,242.92 L158.70,243.68 L159.20,244.41 L159.70,245.12 L160.20,245.81 L160.70,246.48 L161.20,247.13 L161.70,247.76 L162.20,248.37 L162.70,248.96 L163.20,249.54 L163.70,250.09 L164.20,250.63 L164.70,251.16 L165.20,251.66 L165.70,252.16 L166.20,252.63 L166.70,253.09 L167.20,253.54 L167.70,253.98 L168.20,254.39 L168.70,254.80 L169.20,255.19 L169.70,255.58 L170.20,255.94 L170.70,256.30 L171.20,256.65 L171.70,256.98 L172.20,257.31 L172.70,257.62 L173.20,257.92 L173.70,258.22 L174.20,258.50 L174.70,258.78 L175.20,259.04 L175.70,259.30 L176.20,259.55 L176.70,259.79 L177.20,260.02 L177.70,260.25 L178.20,260.46 L178.70,260.67 L179.20,260.88 L179.70,261.07 L180.20,261.26 L180.70,261.45 L181.20,261.63 L181.70,261.80 L182.20,261.97 L182.70,262.13 L183.20,262.28 L183.70,262.43 L184.20,262.58 L184.70,262.72 L185.20,262.86 L185.70,262.99 L186.20,263.11 L186.70,263.24 L187.20,263.36 L187.70,263.47 L188.20,263.58 L188.70,263.69 L189.20,263.80 L189.70,263.90 L190.20,263.99 L190.70,264.09 L191.20,264.18 L191.70,264.27 L192.20,264.35 L192.70,264.43 L193.20,264.51 L193.70,264.59 L194.20,264.66 L194.70,264.74 L195.20,264.81 L195.70,264.87 L196.20,264.94 L196.70,265.00 L197.20,265.06 L197.70,265.12 L198.20,265.18 L198.70,265.23 L199.20,265.29 L199.70,265.34 L200.20,265.39 L200.70,265.44 L201.20,265.48 L201.70,265.53 L202.20,265.57 L202.70,265.62 L203.20,265.66 L203.70,265.70 L204.20,265.74 L204.70,265.77 L205.20,265.81 L205.70,265.84 L206.20,265.88 L206.70,265.91 L207.20,265.94 L207.70,265.97 L208.20,266.00 L208.70,266.03 L209.20,266.06 L209.70,266.09 L210.20,266.11 L210.70,266.14 L211.20,266.16 L211.70,266.19 L212.20,266.21 L212.70,266.23 L213.20,266.25 L213.70,266.28 L214.20,266.30 L214.70,266.32 L215.20,266.33 L215.70,266.35 L216.20,266.37 L216.70,266.39 L217.20,266.41 L217.70,266.42 L218.20,266.44 L218.70,266.45 L219.20,266.47 L219.70,266.48 L220.20,266.50 L220.70,266.51 L221.20,266.52 L221.70,266.54 L222.20,266.55 L222.70,266.56 L223.20,266.57 L223.70,266.58 L224.20,266.60 L224.70,266.61 L225.20,266.62 L225.70,266.63 L226.20,266.64 L226.70,266.65 L227.20,266.66 L227.70,266.66 L228.20,266.67 L228.70,266.68 L229.20,266.69 L229.70,266.70 L230.20,266.71 L230.70,266.71 L231.20,266.72 L231.70,266.73 L232.20,266.73 L232.70,266.74 L233.20,266.75 L233.70,266.75 L234.20,266.76 L234.70,266.77 L235.20,266.77 L235.70,266.78 L236.20,266.78 L236.70,266.79 L237.20,266.79 L237.70,266.80 L238.20,266.80 L238.70,266.81 L239.20,266.81 L239.70,266.82 L240.20,266.82 L240.70,266.83 L241.20,266.83 L241.70,266.84 L242.20,266.84 L242.70,266.84 L243.20,266.85 L243.70,266.85 L244.20,266.85 L244.70,266.86 L245.20,266.86 L245.70,266.86 L246.20,266.87 L246.70,266.87 L247.20,266.87 L247.70,266.88 L248.20,266.88 L248.70,266.88 L249.20,266.89 L249.70,266.89 L250.20,266.89 L250.70,266.89 L251.20,266.90 L251.70,266.90 L252.20,266.90 L252.70,266.90 L253.20,266.90 L253.70,266.91 L254.20,266.91"/><path stroke="#148a14" d="M19.20,266.79 L19.70,266.79 L20.20,266.79 L20.70,266.79 L21.20,266.79 L21.70,266.79 L22.20,266.79 L22.70,266.79 L23.20,266.79 L23.70,266.79 L24.20,266.79 L24.70,266.79 L25.20,266.79 L25.70,266.79 L26.20,266.79 L26.70,266.79 L27.20,266.79 L27.70,266.79 L28.20,266.78 L28.70,266.78 L29.20,266.78 L29.70,266.78 L30.20,266.78 L30.70,266.78 L31.20,266.78 L31.70,266.78 L32.20,266.78 L32.70,266.78 L33.20,266.78 L33.70,266.78 L34.20,266.78 L34.70,266.77 L35.20,266.77 L35.70,266.77 L36.20,266.77 L36.70,266.77 L37.20,266.77 L37.70,266.77 L38.20,266.77 L38.70,266.77 L39.20,266.76 L39.70,266.76 L40.20,266.76 L40.70,266.76 L41.20,266.76 L41.70,266.76 L42.20,266.76 L42.70,266.75 L43.20,266.75 L43.70,266.75 L44.20,266.75 L44.70,266.75 L45.20,266.74 L45.70,266.74 L46.20,266.74 L46.70,266.74 L47.20,266.73 L47.70,266.73 L48.20,266.73 L48.70,266.73 L49.20,266.72 L49.70,266.72 L50.20,266.72 L50.70,266.72 L51.20,266.71 L51.70,266.71 L52.20,266.70 L52.70,266.70 L53.20,266.70 L53.70,266.69 L54.20,266.69 L54.70,266.68 L55.20,266.68 L55.70,266.68 L56.20,266.67 L56.70,266.67 L57.20,266.66 L57.70,266.66 L58.20,266.65 L58.70,266.64 L59.20,266.64 L59.70,266.63 L60.20,266.63 L60.70,266.62 L61.20,266.61 L61.70,266.60 L62.20,266.60 L62.70,266.59 L63.20,266.58 L63.70,266.57 L64.20,266.56 L64.70,266.55 L65.20,266.54 L65.70,266.53 L66.20,266.52 L66.70,266.51 L67.20,266.50 L67.70,266.49 L68.20,266.48 L68.70,266.47 L69.20,266.45 L69.70,266.44 L70.20,266.43 L70.70,266.41 L71.20,266.40 L71.70,266.38 L72.20,266.37 L72.70,266.35 L73.20,266.33 L73.70,266.31 L74.20,266.30 L74.70,266.28 L75.20,266.26 L75.70,266.23 L76.20,266.21 L76.70,266.19 L77.20,266.17 L77.70,266.14 L78.20,266.12 L78.70,266.09 L79.20,266.06 L79.70,266.03 L80.20,266.00 L80.70,265.97 L81.20,265.94 L81.70,265.91 L82.20,265.87 L82.70,265.84 L83.20,265.80 L83.70,265.76 L84.20,265.72 L84.70,265.68 L85.20,265.64 L85.70,265.59 L86.20,265.55 L86.70,265.50 L87.20,265.45 L87.70,265.40 L88.20,265.34 L88.70,265.28 L89.20,265.23 L89.70,265.16 L90.20,265.10 L90.70,265.04 L91.20,264.97 L91.70,264.90 L92.20,264.82 L92.70,264.74 L93.20,264.66 L93.70,264.58 L94.20,264.49 L94.70,264.40 L95.20,264.31 L95.70,264.21 L96.20,264.10 L96.70,263.99 L97.20,263.88 L97.70,263.76 L98.20,263.63 L98.70,263.50 L99.20,263.35 L99.70,263.20 L100.20,263.04 L100.70,262.87 L101.20,262.69 L101.70,262.49 L102.20,262.28 L102.70,262.05 L103.20,261.80 L103.70,261.53 L104.20,261.23 L104.70,260.90 L105.20,260.54 L105.70,260.15 L106.20,259.71 L106.70,259.22 L107.20,258.68 L107.70,258.07 L108.20,257.40 L108.70,256.65 L109.20,255.82 L109.70,254.89 L110.20,253.85 L110.70,252.69 L111.20,251.40 L111.70,249.97 L112.20,248.38 L112.70,246.62 L113.20,244.67 L113.70,242.53 L114.20,240.17 L114.70,237.59 L115.20,234.77 L115.70,231.71 L116.20,228.39 L116.70,224.80 L117.20,220.94 L117.70,216.81 L118.20,212.41 L118.70,207.74 L119.20,202.82 L119.70,197.66 L120.20,192.27 L120.70,186.67 L121.20,180.90 L121.70,174.99 L122.20,168.98 L122.70,162.90 L123.20,156.80 L123.70,150.74 L124.20,144.77 L124.70,138.93 L125.20,133.30 L125.70,127.93 L126.20,122.87 L126.70,118.18 L127.20,113.92 L127.70,110.13 L128.20,106.86 L128.70,104.16 L129.20,102.05 L129.70,100.56 L130.20,99.71 L130.70,99.51 L131.20,99.77 L131.70,100.42 L132.20,101.43 L132.70,102.80 L133.20,104.51 L133.70,106.52 L134.20,108.83 L134.70,111.39 L135.20,114.19 L135.70,117.19 L136.20,120.35 L136.70,123.66 L137.20,127.08 L137.70,130.58 L138.20,134.14 L138.70,137.74 L139.20,141.36 L139.70,144.97 L140.20,148.56 L140.70,152.12 L141.20,155.63 L141.70,159.09 L142.20,162.49 L142.70,165.82 L143.20,169.07 L143.70,172.24 L144.20,175.32 L144.70,178.33 L145.20,181.25 L145.70,184.08 L146.20,186.83 L146.70,189.49 L147.20,192.06 L147.70,194.56 L148.20,196.98 L148.70,199.31 L149.20,201.57 L149.70,203.75 L150.20,205.87 L150.70,207.91 L151.20,209.88 L151.70,211.79 L152.20,213.63 L152.70,215.41 L153.20,217.13 L153.70,218.79 L154.20,220.40 L154.70,221.95 L155.20,223.46 L155.70,224.91 L156.20,226.31 L156.70,227.67 L157.20,228.98 L157.70,230.25 L158.20,231.47 L158.70,232.66 L159.20,233.81 L159.70,234.92 L160.20,235.99 L160.70,237.02 L161.20,238.03 L161.70,239.00 L162.20,239.93 L162.70,240.84 L163.20,241.72 L163.70,242.57 L164.20,243.39 L164.70,244.18 L165.20,244.94 L165.70,245.69 L166.20,246.40 L166.70,247.10 L167.20,247.77 L167.70,248.41 L168.20,249.04 L168.70,249.65 L169.20,250.23 L169.70,250.80 L170.20,251.34 L170.70,251.87 L171.20,252.38 L171.70,252.87 L172.20,253.35 L172.70,253.81 L173.20,254.26 L173.70,254.69 L174.20,255.10 L174.70,255.50 L175.20,255.89 L175.70,256.27 L176.20,256.63 L176.70,256.98 L177.20,257.31 L177.70,257.64 L178.20,257.95 L178.70,258.26 L179.20,258.55 L179.70,258.83 L180.20,259.11 L180.70,259.37 L181.20,259.63 L181.70,259.87 L182.20,260.11 L182.70,260.34 L183.20,260.56 L183.70,260.77 L184.20,260.98 L184.70,261.18 L185.20,261.37 L185.70,261.56 L186.20,261.73 L186.70,261.91 L187.20,262.07 L187.70,262.23 L188.20,262.39 L188.70,262.54 L189.20,262.68 L189.70,262.82 L190.20,262.96 L190.70,263.09 L191.20,263.21 L191.70,263.33 L192.20,263.45 L192.70,263.56 L193.20,263.67 L193.70,263.78 L194.20,263.88 L194.70,263.98 L195.20,264.07 L195.70,264.16 L196.20,264.25 L196.70,264.33 L197.20,264.42 L197.70,264.49 L198.20,264.57 L198.70,264.64 L199.20,264.72 L199.70,264.78 L200.20,264.85 L200.70,264.91 L201.20,264.98 L201.70,265.04 L202.20,265.09 L202.70,265.15 L203.20,265.20 L203.70,265.25 L204.20,265.30 L204.70,265.35 L205.20,265.40 L205.70,265.44 L206.20,265.49 L206.70,265.53 L207.20,265.57 L207.70,265.61 L208.20,265.65 L208.70,265.68 L209.20,265.72 L209.70,265.75 L210.20,265.79 L210.70,265.82 L211.20,265.85 L211.70,265.88 L212.20,265.91 L212.70,265.94 L213.20,265.96 L213.70,265.99 L214.20,266.01 L214.70,266.04 L215.20,266.06 L215.70,266.08 L216.20,266.11 L216.70,266.13 L217.20,266.15 L217.70,266.17 L218.20,266.19 L218.70,266.20 L219.20,266.22 L219.70,266.24 L220.20,266.26 L220.70,266.27 L221.20,266.29 L221.70,266.30 L222.20,266.32 L222.70,266.33 L223.20,266.35 L223.70,266.36 L224.20,266.37 L224.70,266.39 L225.20,266.40 L225.70,266.41 L226.20,266.42 L226.70,266.43 L227.20,266.44 L227.70,266.45 L228.20,266.46 L228.70,266.47 L229.20,266.48 L229.70,266.49 L230.20,266.50 L230.70,266.51 L231.20,266.52 L231.70,266.53 L232.20,266.53 L232.70,266.54 L233.20,266.55 L233.70,266.55 L234.20,266.56 L234.70,266.57 L235.20,266.57 L235.70,266.58 L236.20,266.59 L236.70,266.59 L237.20,266.60 L237.70,266.60 L238.20,266.61 L238.70,266.61 L239.20,266.62 L239.70,266.62 L240.20,266.63 L240.70,266.63 L241.20,266.64 L241.70,266.64 L242.20,266.65 L242.70,266.65 L243.20,266.66 L243.70,266.66 L244.20,266.66 L244.70,266.67 L245.20,266.67 L245.70,266.67 L246.20,266.68 L246.70,266.68 L247.20,266.68 L247.70,266.69 L248.20,266.69 L248.70,266.69 L249.20,266.69 L249.70,266.70 L250.20,266.70 L250.70,266.70 L251.20,266.71 L251.70,266.71 L252.20,266.71 L252.70,266.71 L253.20,266.71 L253.70,266.72 L254.20,266.72"/><path stroke="#10107e" stroke-width="2.0" d="M19.20,266.90 L19.70,266.90 L20.20,266.90 L20.70,266.90 L21.20,266.90 L21.70,266.90 L22.20,266.90 L22.70,266.90 L23.20,266.90 L23.70,266.90 L24.20,266.90 L24.70,266.90 L25.20,266.90 L25.70,266.90 L26.20,266.90 L26.70,266.90 L27.20,266.90 L27.70,266.90 L28.20,266.90 L28.70,266.90 L29.20,266.90 L29.70,266.90 L30.20,266.90 L30.70,266.90 L31.20,266.90 L31.70,266.90 L32.20,266.90 L32.70,266.90 L33.20,266.90 L33.70,266.90 L34.20,266.90 L34.70,266.90 L35.20,266.90 L35.70,266.90 L36.20,266.90 L36.70,266.90 L37.20,266.90 L37.70,266.90 L38.20,266.90 L38.70,266.90 L39.20,266.90 L39.70,266.90 L40.20,266.90 L40.70,266.90 L41.20,266.90 L41.70,266.90 L42.20,266.90 L42.70,266.90 L43.20,266.90 L43.70,266.90 L44.20,266.90 L44.70,266.90 L45.20,266.90 L45.70,266.90 L46.20,266.90 L46.70,266.90 L47.20,266.90 L47.70,266.90 L48.20,266.90 L48.70,266.90 L49.20,266.90 L49.70,266.90 L50.20,266.90 L50.70,266.90 L51.20,266.90 L51.70,266.90 L52.20,266.90 L52.70,266.90 L53.20,266.90 L53.70,266.90 L54.20,266.90 L54.70,266.90 L55.20,266.90 L55.70,266.90 L56.20,266.90 L56.70,266.90 L57.20,266.90 L57.70,266.90 L58.20,266.90 L58.70,266.90 L59.20,266.90 L59.70,266.90 L60.20,266.90 L60.70,266.90 L61.20,266.90 L61.70,266.90 L62.20,266.90 L62.70,266.90 L63.20,266.90 L63.70,266.90 L64.20,266.90 L64.70,266.90 L65.20,266.90 L65.70,266.90 L66.20,266.90 L66.70,266.90 L67.20,266.90 L67.70,266.90 L68.20,266.90 L68.70,266.90 L69.20,266.90 L69.70,266.90 L70.20,266.90 L70.70,266.90 L71.20,266.90 L71.70,266.90 L72.20,266.90 L72.70,266.90 L73.20,266.90 L73.70,266.90 L74.20,266.90 L74.70,266.90 L75.20,266.90 L75.70,266.90 L76.20,266.90 L76.70,266.90 L77.20,266.90 L77.70,266.90 L78.20,266.90 L78.70,266.90 L79.20,266.90 L79.70,266.90 L80.20,266.90 L80.70,266.90 L81.20,266.90 L81.70,266.90 L82.20,266.90 L82.70,266.90 L83.20,266.90 L83.70,266.90 L84.20,266.90 L84.70,266.90 L85.20,266.90 L85.70,266.90 L86.20,266.90 L86.70,266.90 L87.20,266.90 L87.70,266.90 L88.20,266.90 L88.70,266.90 L89.20,266.90 L89.70,266.90 L90.20,266.90 L90.70,266.89 L91.20,266.89 L91.70,266.89 L92.20,266.89 L92.70,266.89 L93.20,266.89 L93.70,266.89 L94.20,266.89 L94.70,266.89 L95.20,266.89 L95.70,266.88 L96.20,266.88 L96.70,266.88 L97.20,266.88 L97.70,266.88 L98.20,266.87 L98.70,266.87 L99.20,266.87 L99.70,266.86 L100.20,266.86 L100.70,266.85 L101.20,266.84 L101.70,266.84 L102.20,266.83 L102.70,266.82 L103.20,266.81 L103.70,266.79 L104.20,266.78 L104.70,266.76 L105.20,266.74 L105.70,266.71 L106.20,266.69 L106.70,266.65 L107.20,266.62 L107.70,266.57 L108.20,266.52 L108.70,266.46 L109.20,266.39 L109.70,266.31 L110.20,266.22 L110.70,266.11 L111.20,265.98 L111.70,265.83 L112.20,265.66 L112.70,265.46 L113.20,265.23 L113.70,264.96 L114.20,264.65 L114.70,264.30 L115.20,263.89 L115.70,263.41 L116.20,262.87 L116.70,262.25 L117.20,261.53 L117.70,260.72 L118.20,259.80 L118.70,258.74 L119.20,257.55 L119.70,256.21 L120.20,254.70 L120.70,253.00 L121.20,251.09 L121.70,248.97 L122.20,246.60 L122.70,243.98 L123.20,241.08 L123.70,237.88 L124.20,234.38 L124.70,230.55 L125.20,226.38 L125.70,221.86 L126.20,216.97 L126.70,211.72 L127.20,206.09 L127.70,200.09 L128.20,193.73 L128.70,187.01 L129.20,179.95 L129.70,172.57 L130.20,164.90 L130.70,156.96 L131.20,148.81 L131.70,140.48 L132.20,132.02 L132.70,123.50 L133.20,114.99 L133.70,106.54 L134.20,98.25 L134.70,90.19 L135.20,82.46 L135.70,75.15 L136.20,68.37 L136.70,62.21 L137.20,56.78 L137.70,52.18 L138.20,48.49 L138.70,45.79 L139.20,44.15 L139.70,43.60 L140.20,43.95 L140.70,44.98 L141.20,46.69 L141.70,49.03 L142.20,51.96 L142.70,55.43 L143.20,59.39 L143.70,63.77 L144.20,68.51 L144.70,73.55 L145.20,78.84 L145.70,84.31 L146.20,89.93 L146.70,95.64 L147.20,101.41 L147.70,107.19 L148.20,112.97 L148.70,118.70 L149.20,124.37 L149.70,129.95 L150.20,135.43 L150.70,140.80 L151.20,146.04 L151.70,151.14 L152.20,156.09 L152.70,160.90 L153.20,165.55 L153.70,170.05 L154.20,174.38 L154.70,178.56 L155.20,182.58 L155.70,186.43 L156.20,190.14 L156.70,193.69 L157.20,197.09 L157.70,200.34 L158.20,203.45 L158.70,206.42 L159.20,209.26 L159.70,211.96 L160.20,214.54 L160.70,217.00 L161.20,219.34 L161.70,221.57 L162.20,223.69 L162.70,225.71 L163.20,227.63 L163.70,229.45 L164.20,231.19 L164.70,232.84 L165.20,234.41 L165.70,235.90 L166.20,237.32 L166.70,238.66 L167.20,239.94 L167.70,241.16 L168.20,242.31 L168.70,243.41 L169.20,244.45 L169.70,245.45 L170.20,246.39 L170.70,247.28 L171.20,248.14 L171.70,248.95 L172.20,249.72 L172.70,250.45 L173.20,251.15 L173.70,251.81 L174.20,252.44 L174.70,253.04 L175.20,253.61 L175.70,254.16 L176.20,254.68 L176.70,255.17 L177.20,255.64 L177.70,256.09 L178.20,256.52 L178.70,256.93 L179.20,257.32 L179.70,257.69 L180.20,258.04 L180.70,258.38 L181.20,258.71 L181.70,259.02 L182.20,259.31 L182.70,259.59 L183.20,259.86 L183.70,260.12 L184.20,260.37 L184.70,260.60 L185.20,260.83 L185.70,261.04 L186.20,261.25 L186.70,261.45 L187.20,261.64 L187.70,261.82 L188.20,262.00 L188.70,262.16 L189.20,262.32 L189.70,262.48 L190.20,262.62 L190.70,262.77 L191.20,262.90 L191.70,263.03 L192.20,263.16 L192.70,263.28 L193.20,263.40 L193.70,263.51 L194.20,263.61 L194.70,263.72 L195.20,263.82 L195.70,263.91 L196.20,264.00 L196.70,264.09 L197.20,264.18 L197.70,264.26 L198.20,264.34 L198.70,264.41 L199.20,264.49 L199.70,264.56 L200.20,264.63 L200.70,264.69 L201.20,264.76 L201.70,264.82 L202.20,264.88 L202.70,264.93 L203.20,264.99 L203.70,265.04 L204.20,265.09 L204.70,265.14 L205.20,265.19 L205.70,265.24 L206.20,265.28 L206.70,265.33 L207.20,265.37 L207.70,265.41 L208.20,265.45 L208.70,265.49 L209.20,265.52 L209.70,265.56 L210.20,265.59 L210.70,265.63 L211.20,265.66 L211.70,265.69 L212.20,265.72 L212.70,265.75 L213.20,265.78 L213.70,265.81 L214.20,265.83 L214.70,265.86 L215.20,265.89 L215.70,265.91 L216.20,265.93 L216.70,265.96 L217.20,265.98 L217.70,266.00 L218.20,266.02 L218.70,266.04 L219.20,266.06 L219.70,266.08 L220.20,266.10 L220.70,266.12 L221.20,266.14 L221.70,266.15 L222.20,266.17 L222.70,266.19 L223.20,266.20 L223.70,266.22 L224.20,266.23 L224.70,266.25 L225.20,266.26 L225.70,266.28 L226.20,266.29 L226.70,266.30 L227.20,266.32 L227.70,266.33 L228.20,266.34 L228.70,266.35 L229.20,266.36 L229.70,266.38 L230.20,266.39 L230.70,266.40 L231.20,266.41 L231.70,266.42 L232.20,266.43 L232.70,266.44 L233.20,266.45 L233.70,266.46 L234.20,266.46 L234.70,266.47 L235.20,266.48 L235.70,266.49 L236.20,266.50 L236.70,266.51 L237.20,266.51 L237.70,266.52 L238.20,266.53 L238.70,266.54 L239.20,266.54 L239.70,266.55 L240.20,266.56 L240.70,266.56 L241.20,266.57 L241.70,266.57 L242.20,266.58 L242.70,266.59 L243.20,266.59 L243.70,266.60 L244.20,266.60 L244.70,266.61 L245.20,266.61 L245.70,266.62 L246.20,266.62 L246.70,266.63 L247.20,266.63 L247.70,266.64 L248.20,266.64 L248.70,266.65 L249.20,266.65 L249.70,266.66 L250.20,266.66 L250.70,266.67 L251.20,266.67 L251.70,266.67 L252.20,266.68 L252.70,266.68 L253.20,266.68 L253.70,266.69 L254.20,266.69"/></g><g fill="none" stroke="#000" stroke-width="1.3"><rect x="18.60" y="6.40" width="236.40" height="282.60"/><rect x="283.20" y="6.50" width="188.90" height="126.80"/><rect x="283.20" y="161.00" width="188.90" height="127.10"/><line x1="38.89" y1="289.00" x2="38.89" y2="286.00"/><line x1="59.28" y1="289.00" x2="59.28" y2="283.30"/><line x1="79.66" y1="289.00" x2="79.66" y2="286.00"/><line x1="100.05" y1="289.00" x2="100.05" y2="283.30"/><line x1="120.44" y1="289.00" x2="120.44" y2="286.00"/><line x1="140.82" y1="289.00" x2="140.82" y2="283.30"/><line x1="161.21" y1="289.00" x2="161.21" y2="286.00"/><line x1="181.60" y1="289.00" x2="181.60" y2="283.30"/><line x1="201.99" y1="289.00" x2="201.99" y2="286.00"/><line x1="222.38" y1="289.00" x2="222.38" y2="283.30"/><line x1="242.76" y1="289.00" x2="242.76" y2="286.00"/><line x1="304.30" y1="133.30" x2="304.30" y2="129.30"/><line x1="304.30" y1="288.10" x2="304.30" y2="284.10"/><line x1="325.33" y1="133.30" x2="325.33" y2="130.80"/><line x1="325.33" y1="288.10" x2="325.33" y2="285.60"/><line x1="346.37" y1="133.30" x2="346.37" y2="129.30"/><line x1="346.37" y1="288.10" x2="346.37" y2="284.10"/><line x1="367.40" y1="133.30" x2="367.40" y2="130.80"/><line x1="367.40" y1="288.10" x2="367.40" y2="285.60"/><line x1="388.44" y1="133.30" x2="388.44" y2="129.30"/><line x1="388.44" y1="288.10" x2="388.44" y2="284.10"/><line x1="409.47" y1="133.30" x2="409.47" y2="130.80"/><line x1="409.47" y1="288.10" x2="409.47" y2="285.60"/><line x1="430.50" y1="133.30" x2="430.50" y2="129.30"/><line x1="430.50" y1="288.10" x2="430.50" y2="284.10"/><line x1="451.54" y1="133.30" x2="451.54" y2="130.80"/><line x1="451.54" y1="288.10" x2="451.54" y2="285.60"/><line x1="472.10" y1="23.20" x2="469.60" y2="23.20"/><line x1="472.10" y1="40.20" x2="468.10" y2="40.20"/><line x1="472.10" y1="57.20" x2="469.60" y2="57.20"/><line x1="472.10" y1="74.20" x2="468.10" y2="74.20"/><line x1="472.10" y1="91.20" x2="469.60" y2="91.20"/><line x1="472.10" y1="108.20" x2="468.10" y2="108.20"/><line x1="472.10" y1="125.20" x2="469.60" y2="125.20"/><line x1="472.10" y1="180.42" x2="469.60" y2="180.42"/><line x1="472.10" y1="200.00" x2="468.10" y2="200.00"/><line x1="472.10" y1="219.57" x2="469.60" y2="219.57"/><line x1="472.10" y1="239.15" x2="468.10" y2="239.15"/><line x1="472.10" y1="258.73" x2="469.60" y2="258.73"/><line x1="472.10" y1="278.30" x2="468.10" y2="278.30"/></g><g font-family="'Liberation Sans', sans-serif" fill="#000" stroke="#000" stroke-width="0.25" font-size="13"><line x1="166" y1="66.5" x2="196" y2="66.5" stroke="#000000" stroke-width="1.6"/><text x="199.6" y="70.8">303 K</text><line x1="166" y1="82.5" x2="196" y2="82.5" stroke="#ee1c24" stroke-width="1.6"/><text x="199.6" y="86.8">273 K</text><line x1="166" y1="98.4" x2="196" y2="98.4" stroke="#1a1aff" stroke-width="1.6"/><text x="199.6" y="102.7">243 K</text><line x1="166" y1="114.3" x2="196" y2="114.3" stroke="#f01cf0" stroke-width="1.6"/><text x="199.6" y="118.6">213 K</text><line x1="166" y1="130.3" x2="196" y2="130.3" stroke="#148a14" stroke-width="1.6"/><text x="199.6" y="134.6">183 K</text><line x1="166" y1="146.2" x2="196" y2="146.2" stroke="#10107e" stroke-width="1.6"/><text x="199.6" y="150.6">153 K</text></g><circle cx="296.59" cy="15.80" r="3.2" fill="url(#ball)"/><circle cx="296.59" cy="275.00" r="3.2" fill="url(#ball)"/><circle cx="328.14" cy="37.80" r="3.2" fill="url(#ball)"/><circle cx="328.14" cy="261.20" r="3.2" fill="url(#ball)"/><circle cx="359.69" cy="60.60" r="3.2" fill="url(#ball)"/><circle cx="359.69" cy="244.70" r="3.2" fill="url(#ball)"/><circle cx="391.24" cy="80.50" r="3.2" fill="url(#ball)"/><circle cx="391.24" cy="232.90" r="3.2" fill="url(#ball)"/><circle cx="422.79" cy="100.60" r="3.2" fill="url(#ball)"/><circle cx="422.79" cy="197.50" r="3.2" fill="url(#ball)"/><circle cx="454.34" cy="120.70" r="3.2" fill="url(#ball)"/><circle cx="454.34" cy="170.00" r="3.2" fill="url(#ball)"/><g font-family="'Liberation Sans', sans-serif" fill="#000" stroke="#000" stroke-width="0.25" font-size="12.3" text-anchor="middle"><text x="18.50" y="305.3">1.15</text><text x="59.28" y="305.3">1.20</text><text x="100.05" y="305.3">1.25</text><text x="140.82" y="305.3">1.30</text><text x="181.60" y="305.3">1.35</text><text x="222.38" y="305.3">1.40</text><text x="304.30" y="147.6">160</text><text x="304.30" y="305.6">160</text><text x="346.37" y="147.6">200</text><text x="346.37" y="305.6">200</text><text x="388.44" y="147.6">240</text><text x="388.44" y="305.6">240</text><text x="430.50" y="147.6">280</text><text x="430.50" y="305.6">280</text><text x="472.57" y="147.6">320</text><text x="472.57" y="305.6">320</text></g><g font-family="'Liberation Sans', sans-serif" fill="#000" stroke="#000" stroke-width="0.25" font-size="12.3"><text x="477" y="10.10">1.30</text><text x="477" y="44.10">1.28</text><text x="477" y="78.10">1.26</text><text x="477" y="112.10">1.24</text><text x="477" y="164.75">0.04</text><text x="477" y="203.90">0.03</text><text x="477" y="243.05">0.02</text><text x="477" y="282.20">0.01</text></g><text font-family="'Liberation Sans', sans-serif" fill="#000" stroke="#000" stroke-width="0.25" font-size="18.5" x="27.7" y="30.5">(a)</text><text font-family="'Liberation Sans', sans-serif" fill="#000" stroke="#000" stroke-width="0.25" font-size="18.5" x="441.9" y="28.8">(b)</text><text font-family="'Liberation Sans', sans-serif" fill="#000" stroke="#000" stroke-width="0.25" font-size="18.5" x="293.1" y="181.6">(c)</text><text font-family="'Liberation Sans', sans-serif" fill="#000" stroke="#000" stroke-width="0.25" font-size="14.5" x="133.05" y="323.2" text-anchor="middle">Energy (eV)</text><text font-family="'Liberation Sans', sans-serif" fill="#000" stroke="#000" stroke-width="0.25" font-size="14.3" transform="translate(11.6,153.5) rotate(-90)" text-anchor="middle">Intensity (a.u.)</text><text font-family="'Liberation Sans', sans-serif" fill="#000" stroke="#000" stroke-width="0.25" font-size="13.85" x="378.1" y="327.1" text-anchor="middle">Temperature (K)</text><text font-family="'Liberation Sans', sans-serif" fill="#000" stroke="#000" stroke-width="0.25" font-size="12.7" transform="translate(515.6,77.85) rotate(-90)" text-anchor="middle">Energy (eV)</text><text font-family="'Liberation Sans', sans-serif" fill="#000" stroke="#000" stroke-width="0.25" font-size="12.7" transform="translate(515.6,232.55) rotate(-90)" text-anchor="middle">FWHM (eV)</text></svg></body></html>
